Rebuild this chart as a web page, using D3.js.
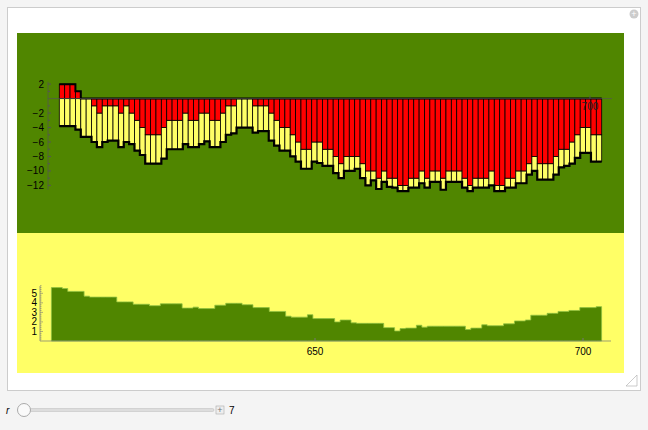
<!DOCTYPE html>
<html><head><meta charset="utf-8">
<script src="https://cdn.jsdelivr.net/npm/d3@7"></script>
<style>
body{margin:0;background:#f4f4f4;font-family:"Liberation Sans",Arial,sans-serif;}
</style></head>
<body><svg id="c" width="648" height="430"></svg>
<script>
// red bar value (top end of the bar, from zero)
const redVals = [2,2,2,1,0,0,-1,-2,-1,-1,-1,-2,-1,-2,-3,-4,-5,-5,-5,-4,-3,-3,-3,-2,-3,-3,-2,-2,-3,-3,-2,-1,-1,0,0,0,-1,-1,-1,-2,-3,-4,-4,-5,-6,-7,-7,-6,-6,-7,-7,-8,-9,-8,-8,-8,-9,-10,-10,-11,-10,-11,-11,-12,-12,-11,-11,-10,-11,-10,-10,-11,-10,-10,-10,-11,-12,-11,-11,-11,-10,-12,-12,-11,-11,-10,-10,-9,-8,-9,-9,-9,-8,-7,-7,-6,-5,-4,-4,-5,-5];
// lower end of the yellow bar
const lowVals = [-3.8,-3.8,-3.8,-4.3,-5.3,-5.3,-6,-6.7,-6,-5.8,-5.8,-6.7,-6,-6.3,-7.2,-7.8,-9,-9,-9,-8.3,-7,-7,-7,-6.3,-6.7,-6.7,-6.3,-5.9,-6.7,-6.7,-6,-5,-4.8,-4,-4,-4,-4.7,-4.5,-4.5,-5.8,-6.5,-7.2,-7.2,-8,-8.7,-9.7,-9.7,-8.7,-8.9,-9.3,-9.3,-10.3,-11,-10,-10,-9.7,-11,-12,-11.3,-12.5,-11.5,-12.2,-12.3,-12.8,-12.8,-12.3,-12.3,-11.7,-12.3,-11.5,-11.5,-12.6,-11.5,-11.5,-11.5,-12.3,-12.8,-12.3,-12.3,-12.3,-12,-12.8,-12.8,-12.3,-12.3,-11.7,-11.7,-10.5,-10,-11.2,-11.2,-11.2,-10.5,-9.5,-9.3,-9,-8.2,-7.5,-7.5,-8.7,-8.7];
// lower chart values
const bandVals = [5.6,5.6,5.5,5.2,5.2,5.2,4.7,4.6,4.6,4.6,4.6,4.6,4.1,4.1,4.1,3.85,3.85,3.85,3.7,3.7,3.9,3.9,3.9,3.9,3.45,3.45,3.55,3.4,3.4,3.4,3.75,3.75,3.95,3.95,3.95,3.8,3.8,3.5,3.5,3.5,3.1,3.1,3.1,2.6,2.5,2.5,2.5,2.75,2.35,2.35,2.35,2.35,2.0,2.2,2.2,1.9,1.85,1.85,1.85,1.85,1.85,1.4,1.4,1.05,1.3,1.35,1.35,1.65,1.45,1.55,1.55,1.55,1.55,1.55,1.55,1.55,1.2,1.35,1.35,1.7,1.6,1.6,1.6,1.8,1.8,2.1,2.1,2.2,2.7,2.7,2.7,2.9,2.9,3.1,3.1,3.2,3.2,3.5,3.5,3.5,3.6];
const topTicks = [2,-2,-4,-6,-8,-10,-12];
const bandTicks = [1,2,3,4,5];
const xTicks = [650,700];

const svg = d3.select("#c");
const GREEN = "#508600", YEL = "#ffff66";
const n = redVals.length;

// frame
svg.append("rect").attr("x",7.5).attr("y",7.5).attr("width",633).attr("height",383)
  .attr("fill","#fff").attr("stroke","#ccc");
svg.append("circle").attr("cx",634).attr("cy",14).attr("r",4.5).attr("fill","#ccc");
svg.append("text").attr("x",634).attr("y",17).attr("text-anchor","middle")
  .attr("font-size",9).attr("fill","#fff").text("+");
svg.append("rect").attr("x",17).attr("y",33).attr("width",607).attr("height",200).attr("fill",GREEN);
svg.append("rect").attr("x",17).attr("y",233).attr("width",607).attr("height",140).attr("fill",YEL);

/* ---- top chart ---- */
const xi = d3.scaleLinear().domain([0,n]).range([59.3,601.7]);
const y = d3.scaleLinear().domain([0,-12]).range([98.6,185.4]);
const bw = xi(1)-xi(0);
const g = svg.append("g");
redVals.forEach((v,i) => {
  const top = Math.min(v,0);
  g.append("rect").attr("x",xi(i)).attr("width",bw)
    .attr("y",y(top)).attr("height",y(lowVals[i])-y(top))
    .attr("fill",YEL).attr("stroke","#000").attr("stroke-width",0.8);
  if(v !== 0){
    g.append("rect").attr("x",xi(i)).attr("width",bw)
      .attr("y",y(Math.max(v,0))).attr("height",Math.abs(y(v)-y(0)))
      .attr("fill","#ff0000").attr("stroke","#000").attr("stroke-width",0.8);
  }
});
// heavy outline along bottom and positive top
const stepB = d3.line().curve(d3.curveStepAfter).x(d=>xi(d[0])).y(d=>y(d[1]));
const lowPts = lowVals.map((v,i)=>[i,v]).concat([[n,lowVals[n-1]]]);
g.append("path").attr("d",stepB(lowPts)).attr("fill","none").attr("stroke","#000").attr("stroke-width",2.2);
const topPts = redVals.map((v,i)=>[i,Math.max(v,0)]).concat([[n,0]]);
g.append("path").attr("d",stepB(topPts)).attr("fill","none").attr("stroke","#000").attr("stroke-width",2);
// axes
svg.append("line").attr("x1",48).attr("x2",612).attr("y1",y(0)).attr("y2",y(0)).attr("stroke","#555").attr("stroke-width",0.7);
svg.append("line").attr("x1",48).attr("x2",48).attr("y1",y(2.3)).attr("y2",y(-12.6)).attr("stroke","#555").attr("stroke-width",0.7);
topTicks.forEach(t => {
  svg.append("line").attr("x1",48).attr("x2",51).attr("y1",y(t)).attr("y2",y(t)).attr("stroke","#555");
  svg.append("text").attr("x",44).attr("y",y(t)+3.5).attr("text-anchor","end").attr("font-size",10).text(t===2?"2":"\u2212"+Math.abs(t));
});
d3.range(-11,2,2).forEach(t => svg.append("line").attr("x1",48).attr("x2",50).attr("y1",y(t)).attr("y2",y(t)).attr("stroke","#555"));
const xv = d3.scaleLinear().domain([650,700]).range([315,583]);
svg.append("line").attr("x1",xv(701.3)).attr("x2",xv(701.3)).attr("y1",y(0)-3).attr("y2",y(0)).attr("stroke","#555");
svg.append("text").attr("x",xv(701.3)).attr("y",110).attr("text-anchor","middle").attr("font-size",10).attr("fill","#222").text("700");

/* ---- lower chart ---- */
const xb = d3.scaleLinear().domain([0,n]).range([51.4,601.6]);
const yb = d3.scaleLinear().domain([0,5]).range([341,293.3]);
const area = d3.area().curve(d3.curveStepAfter).x(d=>xb(d[0])).y0(yb(0)).y1(d=>yb(d[1]));
const bPts = bandVals.map((v,i)=>[i,v]).concat([[n,bandVals[n-1]]]);
svg.append("path").attr("d",area(bPts)).attr("fill",GREEN).attr("stroke","#8fc040").attr("stroke-width",0.8);
svg.append("line").attr("x1",40).attr("x2",611).attr("y1",341).attr("y2",341).attr("stroke","#777").attr("stroke-width",0.7);
svg.append("line").attr("x1",40).attr("x2",40).attr("y1",286).attr("y2",341).attr("stroke","#777").attr("stroke-width",0.7);
d3.range(0.2,5.9,0.2).forEach(t => svg.append("line").attr("x1",40).attr("x2",t%1<0.05||t%1>0.95?43:41.5).attr("y1",yb(t)).attr("y2",yb(t)).attr("stroke","#777").attr("stroke-width",0.6));
bandTicks.forEach(t => svg.append("text").attr("x",37).attr("y",yb(t)+3.5).attr("text-anchor","end").attr("font-size",10).text(t));
xTicks.forEach(t => {
  svg.append("line").attr("x1",xv(t)).attr("x2",xv(t)).attr("y1",341).attr("y2",338).attr("stroke","#777");
  svg.append("text").attr("x",xv(t)).attr("y",355).attr("text-anchor","middle").attr("font-size",10).text(t);
});
svg.append("path").attr("d","M626,386 L637,386 L637,375 Z").attr("fill","none").attr("stroke","#aaa").attr("stroke-width",0.6);

/* ---- slider ---- */
svg.append("text").attr("x",6).attr("y",414).attr("font-size",10).attr("font-style","italic").text("r");
svg.append("rect").attr("x",18).attr("y",408.5).attr("width",196).attr("height",3).attr("rx",1.5).attr("fill","#ddd").attr("stroke","#bbb").attr("stroke-width",0.5);
svg.append("circle").attr("cx",24).attr("cy",410).attr("r",6.5).attr("fill","#fafafa").attr("stroke","#aaa");
svg.append("rect").attr("x",216).attr("y",406).attr("width",8).attr("height",8).attr("fill","#eee").attr("stroke","#aaa").attr("stroke-width",0.6);
svg.append("text").attr("x",220).attr("y",413).attr("text-anchor","middle").attr("font-size",9).attr("fill","#777").text("+");
svg.append("text").attr("x",229).attr("y",414).attr("font-size",10).text("7");
</script></body></html>
